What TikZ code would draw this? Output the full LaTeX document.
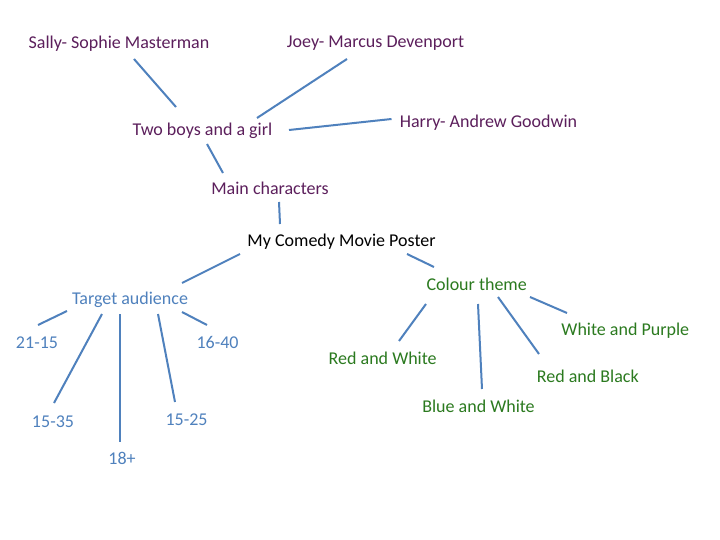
\documentclass[tikz,border=0pt]{standalone}
\usepackage{fontspec}
\setmainfont{Carlito}
\definecolor{linkblue}{HTML}{4F81BD}
\definecolor{txtpurple}{HTML}{5C1F5C}
\definecolor{txtgreen}{HTML}{2B7A1F}
\definecolor{txtblue}{HTML}{4F81BD}
\begin{document}
\begin{tikzpicture}[x=1pt,y=-1pt,
  lbl/.style={inner sep=0pt,anchor=base,font=\fontsize{18}{21}\selectfont},
  pur/.style={lbl,text=txtpurple},
  grn/.style={lbl,text=txtgreen},
  blu/.style={lbl,text=txtblue},
  blk/.style={lbl,text=black},
  link/.style={draw=linkblue,line width=2pt}]
\useasboundingbox[fill=white] (0,0) rectangle (720,540);
% nodes
\node[pur] (sally) at (119,49) {Sally- Sophie Masterman};
\node[pur] (joey) at (375.5,47.5) {Joey- Marcus Devenport};
\node[pur] (two) at (202.5,135.5) {Two boys and a girl};
\node[pur] (harry) at (488.5,127.5) {Harry- Andrew Goodwin};
\node[pur] (main) at (270,195) {Main characters};
\node[blk] (poster) at (341.5,246) {My Comedy Movie Poster};
\node[blu] (target) at (130,304) {Target audience};
\node[grn] (colour) at (476.7,290) {Colour theme};
\node[blu] (a2115) at (37,348) {21-15};
\node[blu] (a1640) at (217.5,348) {16-40};
\node[blu] (a1535) at (53,427) {15-35};
\node[blu] (a1525) at (186.5,425) {15-25};
\node[blu] (a18) at (122,464) {18+};
\node[grn] (rw) at (382.7,364) {Red and White};
\node[grn] (bw) at (478.5,412.3) {Blue and White};
\node[grn] (rb) at (587.8,382.7) {Red and Black};
\node[grn] (wp) at (625.3,335.5) {White and Purple};
% connectors
\draw[link] ([shift={(15,10)}]sally.base) -- ([shift={(-26.5,-28.5)}]two.base);
\draw[link] ([shift={(-28.5,11.5)}]joey.base) -- ([shift={(54.5,-17.5)}]two.base);
\draw[link] ([shift={(-97,-8.5)}]harry.base) -- ([shift={(86.5,-5.5)}]two.base);
\draw[link] ([shift={(4.5,8.5)}]two.base) -- ([shift={(-47,-22)}]main.base);
\draw[link] ([shift={(9,7)}]main.base) -- ([shift={(-61.5,-22)}]poster.base);
\draw[link] ([shift={(-101.5,8)}]poster.base) -- ([shift={(52,-21)}]target.base);
\draw[link] ([shift={(65.5,8)}]poster.base) -- ([shift={(-42.7,-23)}]colour.base);
\draw[link] ([shift={(-63,7)}]target.base) -- ([shift={(1,-23)}]a2115.base);
\draw[link] ([shift={(-28,10)}]target.base) -- ([shift={(1,-24)}]a1535.base);
\draw[link] ([shift={(-10,10)}]target.base) -- ([shift={(-2,-22)}]a18.base);
\draw[link] ([shift={(28,10)}]target.base) -- ([shift={(-11.5,-23)}]a1525.base);
\draw[link] ([shift={(52,8)}]target.base) -- ([shift={(-10.5,-23)}]a1640.base);
\draw[link] ([shift={(-50.7,14)}]colour.base) -- ([shift={(16.3,-23)}]rw.base);
\draw[link] ([shift={(1.3,14)}]colour.base) -- ([shift={(3.5,-23.3)}]bw.base);
\draw[link] ([shift={(21.3,7)}]colour.base) -- ([shift={(-48.8,-28.7)}]rb.base);
\draw[link] ([shift={(53.3,7)}]colour.base) -- ([shift={(-58.3,-22.5)}]wp.base);
\end{tikzpicture}
\end{document}
